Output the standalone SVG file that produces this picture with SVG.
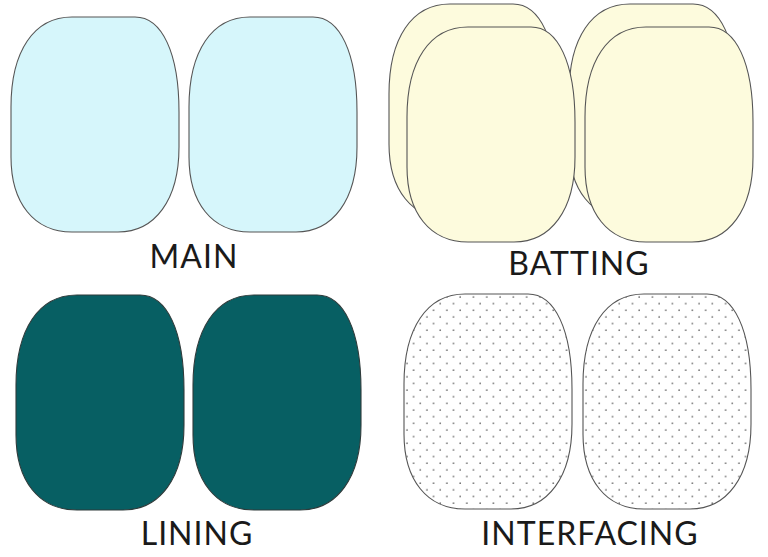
<svg xmlns="http://www.w3.org/2000/svg" xmlns:xlink="http://www.w3.org/1999/xlink" width="768" height="557" viewBox="0 0 768 557">
<style>
.pad{stroke:#555;stroke-width:1.1}
.main{fill:#d6f6fb}
.bat{fill:#fdfbdd}
.lin{fill:#075f63;stroke:#2f3b3b}
.intf{fill:url(#dots)}
.lbl{font-family:Lato,"Liberation Sans",sans-serif;font-size:32px;font-weight:400;letter-spacing:1px;fill:#1a1a1a;text-anchor:middle}
</style>
<defs>
<path id="shape" d="M61,0 L124,0 C151,0 168,36 168,95 L168,130 C168,183 144,215 107,215 L61,215 C23,215 0,186 0,140 L0,90 C0,34 23,0 61,0 Z"/>
<pattern id="dots" patternUnits="userSpaceOnUse" width="13.3" height="13.3">
<rect width="13.3" height="13.3" fill="#fff"/>
<circle cx="3" cy="3" r="0.8" fill="#666"/>
<circle cx="9.65" cy="9.65" r="0.8" fill="#666"/>
</pattern>
</defs>
<rect width="768" height="557" fill="#fff"/>
<g id="main">
<use xlink:href="#shape" href="#shape" class="pad main" x="11" y="17"/>
<use xlink:href="#shape" href="#shape" class="pad main" x="189" y="17"/>
<text class="lbl" x="194" y="268">MAIN</text>
</g>
<g id="batting">
<use xlink:href="#shape" href="#shape" class="pad bat" x="389" y="4"/>
<use xlink:href="#shape" href="#shape" class="pad bat" x="569" y="4"/>
<use xlink:href="#shape" href="#shape" class="pad bat" x="407" y="27"/>
<use xlink:href="#shape" href="#shape" class="pad bat" x="585" y="27"/>
<text class="lbl" x="579" y="275">BATTING</text>
</g>
<g id="lining">
<use xlink:href="#shape" href="#shape" class="pad lin" x="16" y="295"/>
<use xlink:href="#shape" href="#shape" class="pad lin" x="193" y="295"/>
<text class="lbl" x="197" y="545">LINING</text>
</g>
<g id="interfacing">
<use xlink:href="#shape" href="#shape" class="pad intf" x="404" y="294"/>
<use xlink:href="#shape" href="#shape" class="pad intf" x="583" y="294"/>
<text class="lbl" x="590" y="545">INTERFACING</text>
</g>
<g id="connectors"/>
</svg>
